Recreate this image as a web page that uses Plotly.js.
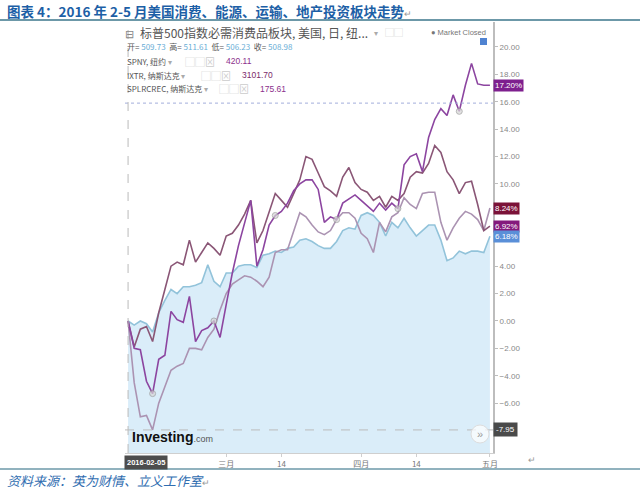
<!DOCTYPE html>
<html>
<head>
<meta charset="utf-8">
<script src="https://cdn.plot.ly/plotly-3.0.1.min.js"></script>
<style>
html,body{margin:0;padding:0;background:#fff;}
#chart{width:640px;height:489px;}
</style>
</head>
<body>
<div id="chart"></div>
<script>
// ---- data (percent change since 2016-02-05) ----
const dates = ['2016-02-05','2016-02-08','2016-02-09','2016-02-10','2016-02-11','2016-02-12','2016-02-16','2016-02-17','2016-02-18','2016-02-19','2016-02-22','2016-02-23','2016-02-24','2016-02-25','2016-02-26','2016-02-29',
'2016-03-01','2016-03-02','2016-03-03','2016-03-04','2016-03-07','2016-03-08','2016-03-09','2016-03-10','2016-03-11','2016-03-14','2016-03-15','2016-03-16','2016-03-17','2016-03-18','2016-03-21','2016-03-22','2016-03-23','2016-03-24','2016-03-28','2016-03-29','2016-03-30','2016-03-31',
'2016-04-01','2016-04-04','2016-04-05','2016-04-06','2016-04-07','2016-04-08','2016-04-11','2016-04-12','2016-04-13','2016-04-14','2016-04-15','2016-04-18','2016-04-19','2016-04-20','2016-04-21','2016-04-22','2016-04-25','2016-04-26','2016-04-27','2016-04-28','2016-04-29',
'2016-05-02'];

const staples = [0,-0.3,0.0,-0.2,-0.8,0.6,1.5,2.3,2.0,2.5,2.5,2.6,2.8,4.1,2.9,2.5,
3.5,3.5,4.0,4.1,4.1,3.9,4.8,4.9,5.1,5.0,5.3,5.4,5.9,6.0,5.8,5.5,5.3,5.3,5.8,6.6,6.8,6.7,
7.7,7.9,7.7,7.2,6.2,7.2,6.8,7.5,6.8,6.2,6.6,7.0,7.0,5.9,4.4,4.6,5.1,4.9,5.1,5.1,5.0,
6.18];

const spny = [0,-2.0,-2.1,-4.4,-5.3,-2.8,-2.5,0.7,0.1,-0.1,1.8,-1.5,-0.7,-0.5,0.0,-1.2,
1.2,3.5,5.5,7.2,8.8,4.0,5.2,7.0,7.7,8.0,8.6,9.5,10.0,10.3,10.3,9.6,7.2,7.6,7.4,8.6,8.9,9.2,
8.8,8.4,8.0,8.6,8.1,8.6,8.2,11.4,12.0,12.2,10.9,13.4,14.7,15.5,15.0,16.5,15.3,17.2,18.8,17.3,17.2,
17.2];

const ixtr = [0,-1.9,-0.6,-0.4,-1.5,0.6,2.3,4.0,4.3,4.1,5.9,4.3,5.0,5.7,5.3,4.8,
6.2,6.4,7.0,7.8,8.8,5.7,6.6,8.0,9.3,8.8,8.3,9.3,10.3,12.0,11.8,10.8,9.8,9.5,9.1,10.5,11.2,10.1,
9.6,9.4,8.8,9.1,8.3,9.1,8.8,9.3,10.5,10.9,10.8,11.5,12.8,12.3,10.9,10.3,9.3,10.1,10.2,8.5,6.6,
6.92];

const splrcrec = [0,-4.5,-7.0,-6.9,-7.95,-6.0,-4.8,-3.6,-3.3,-3.1,-2.0,-2.0,-2.1,-1.2,-0.6,0.8,
2.0,2.7,3.0,3.3,3.2,2.9,2.5,3.2,5.0,5.2,5.2,6.5,7.9,7.6,7.0,6.5,6.3,6.6,7.4,7.9,7.9,7.5,
6.4,6.0,5.0,7.2,6.5,7.6,7.9,9.0,8.5,8.2,9.3,9.4,9.4,7.2,5.9,6.8,7.5,8.0,7.8,7.4,6.6,
8.24];

const tickDates = ['2016-03-01','2016-03-14','2016-04-01','2016-04-14','2016-05-02'];
const tickLabels = ['三月','14','四月','14','五月'];
const yTickVals = [-6,-4,-2,0,2,4,10,12,14,16,18,20];
const lastLabels = ['17.20%','8.24%','6.92%','6.18%'];
const lastValues = [17.20, 8.24, 6.92, 6.18];
const minValue = -7.95;
const refLevel = 15.9;

// ---- layout geometry ----
const W = 640, H = 489;
const L = 125, R = 493, T = 22, B = 453;
const yTop = 21.82, yBot = -9.635;
const px = x => (x - L) / (R - L);
const py = y => (B - y) / (B - T);
const CJK = '"Noto Sans CJK SC", "Liberation Sans", sans-serif';
const SANS = '"Liberation Sans", Arial, sans-serif';

const baseline = dates.map(() => yBot);
const markerSizes = dates.map((d, i) => (i % 10 === 4 ? 6 : 0));

const traces = [
  {x: dates, y: baseline, type: 'scatter', mode: 'lines', line: {width: 0}, hoverinfo: 'skip', showlegend: false},
  {x: dates, y: staples, type: 'scatter', mode: 'lines', fill: 'tonexty', fillcolor: 'rgba(214,235,248,0.9)',
   line: {color: '#92c3da', width: 1.6}, name: '标普500指数必需消费品板块'},
  {x: dates, y: splrcrec, type: 'scatter', mode: 'lines', line: {color: '#ab93b2', width: 1.6}, name: 'SPLRCREC'},
  {x: dates, y: ixtr, type: 'scatter', mode: 'lines', line: {color: '#8a5676', width: 1.6}, name: 'IXTR'},
  {x: dates, y: spny, type: 'scatter', mode: 'lines+markers', line: {color: '#8c45a0', width: 1.6},
   marker: {size: markerSizes, color: '#d6d6d6', line: {color: '#999', width: 1}}, name: 'SPNY'}
];

const ann = [];
function txt(x, y, text, opts) {
  ann.push(Object.assign({xref: 'paper', yref: 'paper', x: px(x), y: py(y), text: text, showarrow: false,
    xanchor: 'left', yanchor: 'middle', font: {family: CJK, size: 9, color: '#555'}}, opts || {}));
}

// title
txt(5, 11, '<b>图表 4：2016 年 2-5 月美国消费、能源、运输、地产投资板块走势</b><span style="color:#999;font-size:9px">↵</span>',
  {font: {family: CJK, size: 13.5, color: '#1d5fa6'}});
// source
txt(5, 480, '<i>资料来源：英为财情、立义工作室</i><span style="color:#999;font-size:9px">↵</span>',
  {font: {family: CJK, size: 13, color: '#2f6db0'}});
txt(526, 460, '↵', {font: {family: CJK, size: 9, color: '#999'}});

// legend panel
txt(123, 33, '⊟', {font: {family: CJK, size: 11, color: '#888'}});
txt(138, 33, '标普500指数必需消费品板块, 美国, 日, 纽...', {font: {family: CJK, size: 12, color: '#555'}});
txt(372, 33, '▾', {font: {family: CJK, size: 8, color: '#aaa'}});
txt(383, 33, '▢▢', {font: {family: CJK, size: 9, color: '#ccc'}});
txt(429, 33, '● Market Closed', {font: {family: SANS, size: 7.5, color: '#777'}});
txt(125, 46, '开= <span style="color:#6aaed6">509.73</span>  高= <span style="color:#6aaed6">511.61</span>  低= <span style="color:#6aaed6">506.23</span>  收= <span style="color:#6aaed6">508.98</span>',
  {font: {family: CJK, size: 8, color: '#555'}});
txt(125, 61, 'SPNY, 纽约 <span style="color:#aaa">▾</span>', {font: {family: CJK, size: 8, color: '#555'}});
txt(183, 61, '▢▢⊠', {font: {family: CJK, size: 10, color: '#ccc'}});
txt(224, 61, '420.11', {font: {family: SANS, size: 8.5, color: '#8c2f8c'}});
txt(125, 75, 'IXTR, 纳斯达克 <span style="color:#aaa">▾</span>', {font: {family: CJK, size: 8, color: '#555'}});
txt(199, 75, '▢▢⊠', {font: {family: CJK, size: 10, color: '#ccc'}});
txt(240, 75, '3101.70', {font: {family: SANS, size: 8.5, color: '#7a2a6a'}});
txt(125, 89, 'SPLRCREC, 纳斯达克 <span style="color:#aaa">▾</span>', {font: {family: CJK, size: 8, color: '#555'}});
txt(217, 89, '▢▢⊠', {font: {family: CJK, size: 10, color: '#ccc'}});
txt(258, 89, '175.61', {font: {family: SANS, size: 8.5, color: '#8c2f8c'}});

// last value labels on right axis
const labelColors = ['#7e1f8e', '#7b1238', '#84197c', '#5a8fd8'];
lastValues.forEach((v, k) => {
  ann.push({xref: 'paper', yref: 'y', x: 1, y: v, text: lastLabels[k], showarrow: false, xanchor: 'left', yanchor: 'middle',
    bgcolor: labelColors[k], borderpad: 1, font: {family: SANS, size: 8, color: '#fff'}});
});
ann.push({xref: 'paper', yref: 'y', x: 1, y: minValue, text: minValue.toFixed(2), showarrow: false, xanchor: 'left', yanchor: 'middle',
  bgcolor: '#4a4a4a', borderpad: 2, font: {family: SANS, size: 8, color: '#fff'}});

// date label box
ann.push({xref: 'x', yref: 'paper', x: dates[0], y: py(462), text: '<b>' + dates[0] + '</b>', showarrow: false,
  xanchor: 'left', xshift: -4, yanchor: 'middle', bgcolor: '#4d4d4d', borderpad: 2, font: {family: SANS, size: 7.5, color: '#fff'}});

// Investing.com logo
txt(130, 437, '<b>Investing</b><span style="font-size:9px;color:#555">.com</span>', {font: {family: SANS, size: 14, color: '#111'}});
// » button
txt(480, 434, '»', {xanchor: 'center', font: {family: SANS, size: 11, color: '#999'}});

const shapes = [
  {type: 'line', xref: 'paper', yref: 'paper', x0: px(0), x1: px(W), y0: py(20), y1: py(20), line: {color: '#6c98a8', width: 2}},
  {type: 'line', xref: 'paper', yref: 'paper', x0: px(0), x1: px(W), y0: py(469), y1: py(469), line: {color: '#6c98a8', width: 1.5}},
  {type: 'line', xref: 'paper', yref: 'y', x0: 0, x1: 1, y0: refLevel, y1: refLevel, line: {color: '#a3aedb', width: 1, dash: 'dot'}},
  {type: 'line', xref: 'x', yref: 'paper', x0: dates[0], x1: dates[0], y0: 0, y1: 1, line: {color: '#bbb', width: 1, dash: 'dash'}},
  {type: 'line', xref: 'paper', yref: 'y', x0: 0, x1: 1, y0: minValue, y1: minValue, line: {color: '#bbb', width: 1, dash: 'dash'}},
  {type: 'circle', xref: 'paper', yref: 'paper', x0: px(471), x1: px(489), y0: py(425), y1: py(443), line: {color: '#ddd', width: 1}, fillcolor: 'rgba(255,255,255,0.7)'},
  {type: 'rect', xref: 'paper', yref: 'paper', x0: px(480), x1: px(487), y0: py(38), y1: py(45), line: {width: 0}, fillcolor: '#4f83d1'}
];

const layout = {
  width: W, height: H,
  margin: {l: L, r: W - R, t: T, b: H - B, pad: 0},
  paper_bgcolor: '#fff', plot_bgcolor: '#fff',
  showlegend: false,
  font: {family: SANS},
  xaxis: {
    type: 'category', range: [-0.5, dates.length - 0.5],
    tickmode: 'array', tickvals: tickDates, ticktext: tickLabels,
    showgrid: false, zeroline: false, showline: true, linecolor: '#cfcfcf', linewidth: 1,
    ticks: 'outside', ticklen: 3, tickcolor: '#cfcfcf',
    tickfont: {family: CJK, size: 8, color: '#777'}
  },
  yaxis: {
    side: 'right', range: [yBot, yTop],
    tickmode: 'array', tickvals: yTickVals,
    tickformat: '.2f', ticksuffix: '%',
    showgrid: false, zeroline: false, showline: true, linecolor: '#bdbdbd', linewidth: 2,
    ticks: 'outside', ticklen: 3, tickcolor: '#bdbdbd',
    tickfont: {family: SANS, size: 8, color: '#888'}
  },
  annotations: ann,
  shapes: shapes
};

Plotly.newPlot('chart', traces, layout, {displayModeBar: false, staticPlot: true});
</script>
</body>
</html>
